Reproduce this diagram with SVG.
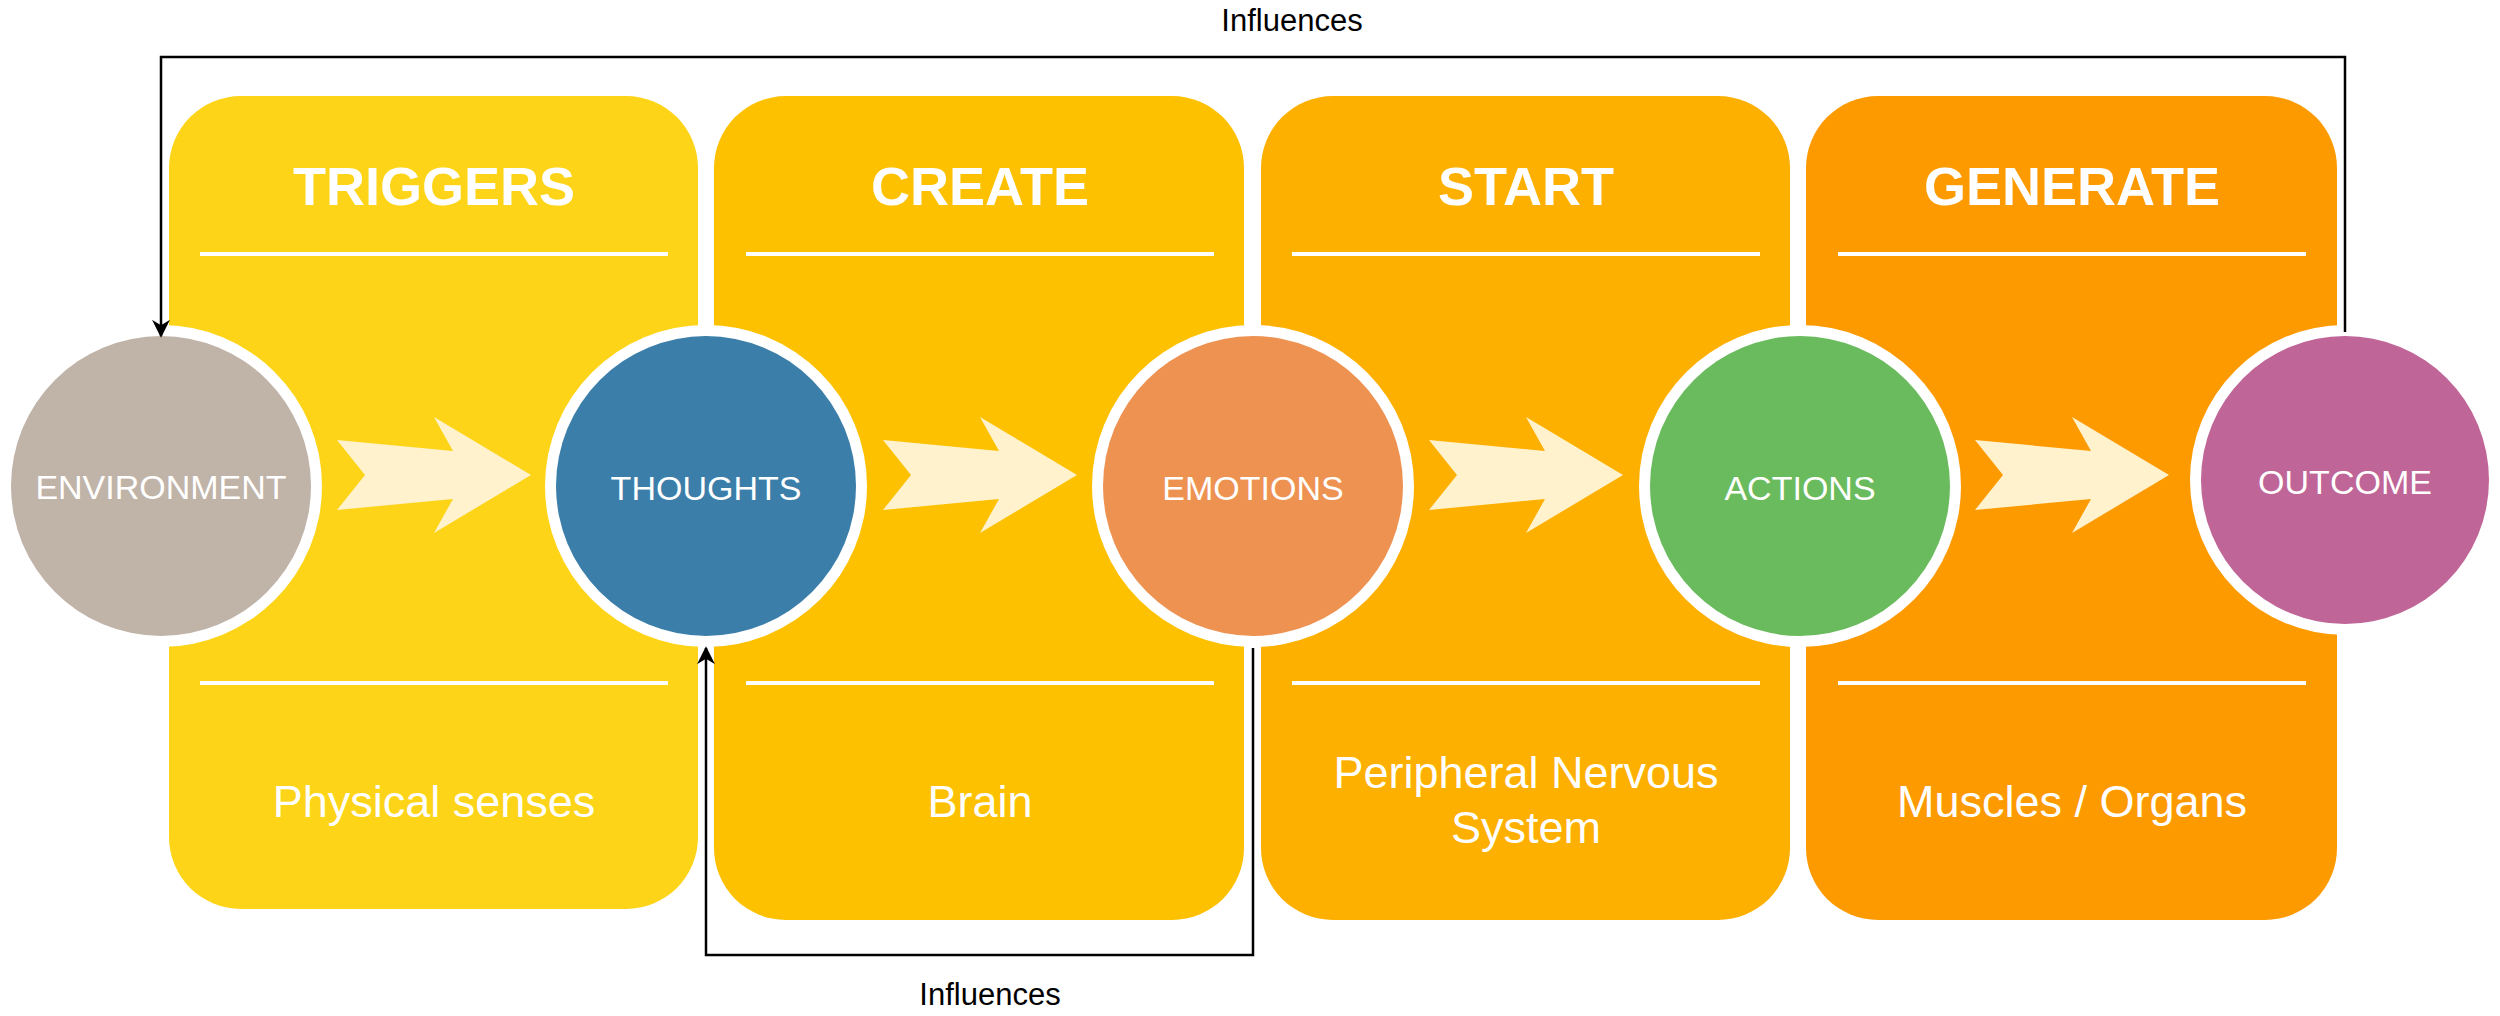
<svg xmlns="http://www.w3.org/2000/svg" width="2500" height="1016" viewBox="0 0 2500 1016">
<defs>
<style>
.t{font-family:"Liberation Sans",Arial,sans-serif;fill:#fff;text-anchor:middle}
.h{font-size:54px;font-weight:bold}
.s{font-size:45px}
.c{font-size:34px}
.sep{stroke:#fff;stroke-width:4}
.ring{fill:#fff}
.chev{fill:#FFF2CC}
.con{fill:none;stroke:#000;stroke-width:2.5}
.lbl{font-family:"Liberation Sans",Arial,sans-serif;font-size:31px;fill:#000;text-anchor:middle}
</style>
<marker id="ah" viewBox="0 0 10 10" refX="10" refY="5" markerWidth="8" markerHeight="8" markerUnits="userSpaceOnUse" orient="auto"><path d="M0,0 L10,5 L0,10 L3,5 Z" fill="#000"/></marker>
<marker id="ah2" viewBox="0 0 10 10" refX="9" refY="5" markerWidth="18" markerHeight="18" markerUnits="userSpaceOnUse" orient="auto"><path d="M0,0 L10,5 L0,10 L3,5 Z" fill="#000"/></marker>
<path id="chv" d="M337,440 L453,451 L434,417 L531,475 L434,533 L453,499 L337,510 L365,475 Z"/>
</defs>
<rect width="2500" height="1016" fill="#fff"/>
<g id="col-triggers">
<rect x="169" y="96" width="529" height="813" rx="72" fill="#FDD418"/>
<text class="t h" x="434" y="205">TRIGGERS</text>
<line class="sep" x1="200" y1="254" x2="668" y2="254"/>
<line class="sep" x1="200" y1="683" x2="668" y2="683"/>
<text class="t s" x="434" y="817">Physical senses</text>
</g>
<g id="col-create">
<rect x="714" y="96" width="530" height="824" rx="72" fill="#FDC100"/>
<text class="t h" x="980" y="205">CREATE</text>
<line class="sep" x1="746" y1="254" x2="1214" y2="254"/>
<line class="sep" x1="746" y1="683" x2="1214" y2="683"/>
<text class="t s" x="980" y="817">Brain</text>
</g>
<g id="col-start">
<rect x="1261" y="96" width="529" height="824" rx="72" fill="#FEB000"/>
<text class="t h" x="1526" y="205">START</text>
<line class="sep" x1="1292" y1="254" x2="1760" y2="254"/>
<line class="sep" x1="1292" y1="683" x2="1760" y2="683"/>
<text class="t s" x="1526" y="788">Peripheral Nervous</text>
<text class="t s" x="1526" y="843">System</text>
</g>
<g id="col-generate">
<rect x="1806" y="96" width="531" height="824" rx="72" fill="#FD9A00"/>
<text class="t h" x="2072" y="205">GENERATE</text>
<line class="sep" x1="1838" y1="254" x2="2306" y2="254"/>
<line class="sep" x1="1838" y1="683" x2="2306" y2="683"/>
<text class="t s" x="2072" y="817">Muscles / Organs</text>
</g>
<g id="chevrons">
<use href="#chv" class="chev"/>
<use href="#chv" class="chev" x="546"/>
<use href="#chv" class="chev" x="1092"/>
<use href="#chv" class="chev" x="1638"/>
</g>
<g id="environment">
<circle class="ring" cx="161" cy="486" r="161"/>
<circle cx="161" cy="486" r="150" fill="#C0B3A8"/>
<text class="t c" x="161" y="499">ENVIRONMENT</text>
</g>
<g id="thoughts">
<circle class="ring" cx="706" cy="486" r="161"/>
<circle cx="706" cy="486" r="150" fill="#3B7EA9"/>
<text class="t c" x="706" y="500">THOUGHTS</text>
</g>
<g id="emotions">
<circle class="ring" cx="1253" cy="486" r="161"/>
<circle cx="1253" cy="486" r="150" fill="#EE9252"/>
<text class="t c" x="1253" y="500">EMOTIONS</text>
</g>
<g id="actions">
<circle class="ring" cx="1800" cy="486" r="161"/>
<circle cx="1800" cy="486" r="150" fill="#6ABB5D"/>
<text class="t c" x="1800" y="500">ACTIONS</text>
</g>
<g id="outcome">
<circle class="ring" cx="2345" cy="480" r="155"/>
<circle cx="2345" cy="480" r="144" fill="#C06597"/>
<text class="t c" x="2345" y="494">OUTCOME</text>
</g>
<g id="connectors">
<path class="con" d="M2345,332 L2345,57 L161,57 L161,336" marker-end="url(#ah2)"/>
<text class="lbl" x="1292" y="31">Influences</text>
<path class="con" d="M1253,648 L1253,955 L706,955 L706,648" marker-end="url(#ah2)"/>
<text class="lbl" x="990" y="1005">Influences</text>
</g>
</svg>
